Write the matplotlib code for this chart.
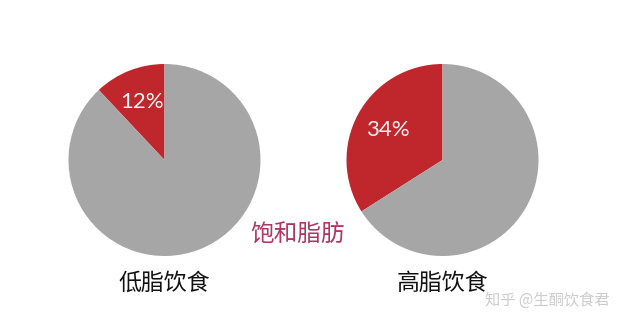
import matplotlib.pyplot as plt

plt.rcParams['font.family'] = ['Noto Sans CJK SC', 'DejaVu Sans']

# data
diets = ["低脂饮食", "高脂饮食"]
sat_fat = [12, 34]
other = [88, 66]
legend_text = "饱和脂肪"
watermark = "知乎 @生酮饮食君"

red = "#c0272d"
grey = "#a6a6a6"

W, H = 640, 327
fig = plt.figure(figsize=(W / 100, H / 100), dpi=100)

centers = [(164.5, 160), (442.5, 160)]
r = 96

for (cx, cy), name, s, o in zip(centers, diets, sat_fat, other):
    ax = fig.add_axes([(cx - r) / W, 1 - (cy + r) / H, 2 * r / W, 2 * r / H])
    wedges, texts, autotexts = ax.pie(
        [s, o], colors=[red, grey], startangle=90, counterclock=True,
        autopct=lambda p: f"{p:.0f}%", pctdistance=0.65, radius=1,
        wedgeprops=dict(linewidth=0))
    autotexts[0].set_color("#fdf2f2")
    autotexts[0].set_fontsize(16)
    autotexts[0].set_fontfamily(['Lato', 'DejaVu Sans'])
    autotexts[1].set_visible(False)
    ax.set_xlim(-1, 1)
    ax.set_ylim(-1, 1)
    ax.set_aspect("equal")
    ax.axis("off")
    fig.text(cx / W, 1 - 283 / H, name, ha="center", va="center",
             fontsize=16.5, color="#111111")

fig.text(298 / W, 1 - 235 / H, legend_text, ha="center", va="center",
         fontsize=17, color="#b0365f", fontweight="light")
fig.text(547 / W, 1 - 300 / H, watermark, ha="center", va="center",
         fontsize=11, color="#cccccc", fontweight="light")

fig.savefig("out.png", dpi=100, facecolor="white")
